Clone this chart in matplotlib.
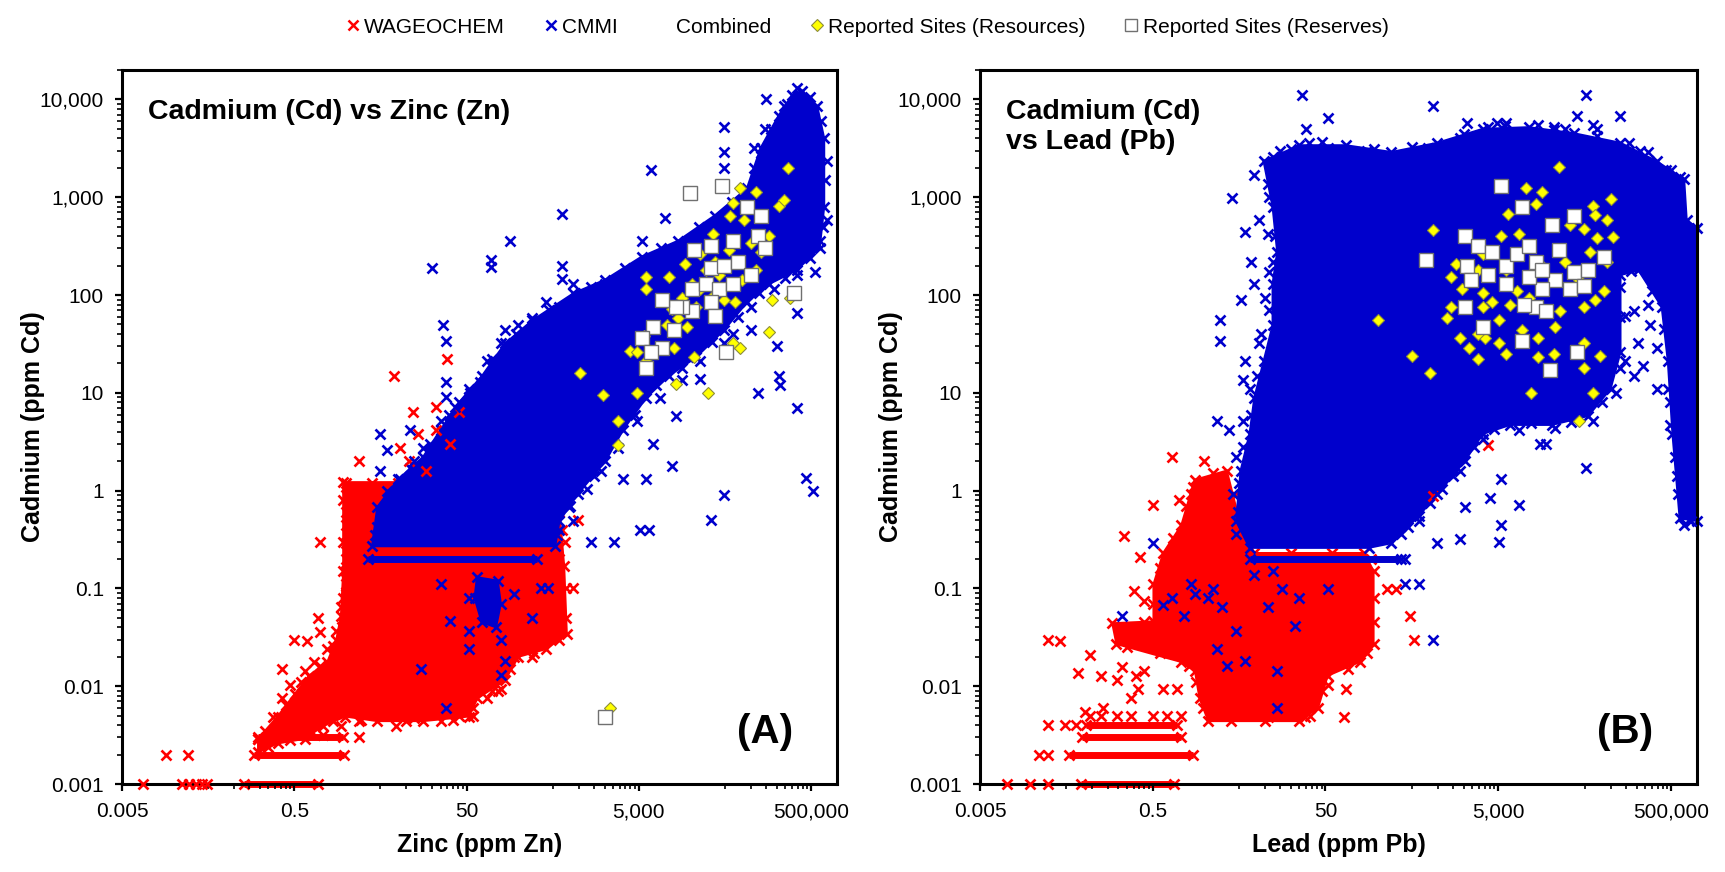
import numpy as np
import matplotlib.pyplot as plt
from matplotlib.lines import Line2D
from matplotlib.ticker import FixedLocator, FixedFormatter, LogLocator, NullFormatter

plt.rcParams['font.family'] = ['Liberation Sans', 'DejaVu Sans']

### Axis ticks
y_ticks = [0.001, 0.01, 0.1, 1, 10, 100, 1000, 10000]
y_tick_labels = ['0.001', '0.01', '0.1', '1', '10', '100', '1,000', '10,000']
x_ticks = [0.005, 0.5, 50, 5000, 500000]
x_tick_labels = ['0.005', '0.5', '50', '5,000', '500,000']

### Panel A : Cd vs Zn  (all pairs are (ppm x, ppm Cd))
# outline of the solid part of the WAGEOCHEM cloud
zn_wageo_core = [(1.85, 1.22), (13.8, 1.22), (290, 0.68), (600, 0.61), (680, 0.168), (730, 0.034),
                 (420, 0.024), (200, 0.020), (140, 0.0115), (67, 0.0075), (53, 0.0049), (15.6, 0.0044),
                 (4.6, 0.0044), (1.96, 0.0049), (1.07, 0.0039), (0.66, 0.0029), (0.32, 0.0026),
                 (0.19, 0.0021), (0.19, 0.0029), (0.32, 0.0049), (0.51, 0.0084), (0.74, 0.0128),
                 (1.21, 0.0177), (1.54, 0.030), (1.74, 0.052), (1.85, 0.15)]
zn_wageo_edge = [(0.23, 0.0035), (0.4, 0.0065), (0.6, 0.011), (1.0, 0.016), (1.4, 0.026), (1.8, 0.04),
                 (1.85, 0.08), (1.85, 0.3), (1.85, 0.8), (4, 1.2), (8, 1.2), (650, 0.4), (700, 0.3),
                 (720, 0.1), (720, 0.05), (600, 0.03), (300, 0.022), (160, 0.015), (100, 0.009),
                 (60, 0.006), (35, 0.0045), (10, 0.0044), (3, 0.0045), (1.4, 0.0044), (0.8, 0.0034),
                 (0.45, 0.0028), (0.25, 0.0024)]
# detection limit rows: (Cd, from, to)
zn_wageo_rows = [(0.001, 0.13, 0.95), (0.002, 0.17, 1.9), (0.003, 0.19, 1.85)]
zn_wageo_points = [(7.1, 15), (30, 22), (12, 6.4), (22, 7.2), (41, 6.4), (13.8, 3.8), (22, 4.2), (32, 3.0),
                   (8.5, 2.7), (10.8, 2.0), (17, 1.6), (2.8, 2.0), (2.0, 1.2), (2.0, 0.9), (2.0, 0.61),
                   (2.0, 0.44), (2.0, 0.29), (2.0, 0.2), (2.0, 0.15), (2.0, 0.11), (2.0, 0.088), (2.0, 0.06),
                   (1.0, 0.3), (0.95, 0.05), (1.0, 0.036), (0.5, 0.03), (0.7, 0.029), (0.36, 0.015),
                   (2.8, 0.003), (870, 0.1), (600, 0.2), (985, 0.5), (60, 0.005), (41, 0.005), (290, 0.02),
                   (115, 0.009), (0.19, 0.0029), (0.28, 0.0049), (0.36, 0.0075), (0.45, 0.0103),
                   (0.66, 0.0143), (0.84, 0.0177), (1.21, 0.024), (1.54, 0.037), (1.74, 0.064), (180, 0.02),
                   (124, 0.0093), (86, 0.0075), (25, 0.0044), (12.2, 0.0047), (7.5, 0.0039), (2.8, 0.0044),
                   (1.74, 0.0039), (1.07, 0.0032), (0.0088, 0.001), (0.025, 0.001), (0.03, 0.001),
                   (0.036, 0.001), (0.042, 0.001), (0.048, 0.001), (0.016, 0.002), (0.029, 0.002)]

zn_cmmi_core = [(3.9e5, 1.23e4), (5.9e5, 8500), (7.1e5, 4000), (7.1e5, 800), (6.3e5, 305), (3.4e5, 179),
                (1.64e5, 130), (9.0e4, 84), (4.9e4, 44), (2.3e4, 23), (1.13e4, 15), (6100, 8.9), (3300, 4.2),
                (2050, 2.0), (985, 0.93), (600, 0.49), (535, 0.27), (4.0, 0.27), (4.6, 0.68), (8.0, 1.3),
                (15.6, 2.2), (25, 4.2), (41, 8.0), (76, 15), (140, 32), (290, 55), (870, 104), (2050, 144),
                (5400, 247), (1.44e4, 360), (3.8e4, 650), (9.0e4, 1230), (1.3e5, 3200), (2.1e5, 6840),
                (3.0e5, 1.1e4)]
zn_cmmi_blob = [(66, 0.13), (115, 0.12), (125, 0.07), (110, 0.04), (75, 0.045), (62, 0.08)]
zn_cmmi_edge = [(4.3, 0.35), (6.0, 1.0), (11, 1.7), (19, 3.0), (31, 6.0), (55, 10), (100, 22), (190, 40),
                (450, 70), (1400, 120), (3500, 190), (9000, 300), (2.5e4, 500), (6e4, 900), (1.1e5, 2000),
                (1.7e5, 5000), (2.6e5, 9000), (560, 0.35), (800, 0.7), (1500, 1.4), (2600, 3.0),
                (4500, 6.0), (8000, 12), (1.6e4, 18), (3.5e4, 33), (7e4, 60), (1.25e5, 105), (2.5e5, 150),
                (4.8e5, 240), (6.8e5, 500), (7.3e5, 1500), (6.5e5, 6000)]
zn_cmmi_rows = [(0.2, 3.6, 330)]
zn_cmmi_points = [(1.5e5, 1.0e4), (4.9e4, 5200), (4.9e4, 2900), (4.9e4, 2000), (6900, 1900), (1.1e5, 3200),
                  (1.0e4, 610), (640, 680), (160, 360), (20, 190), (97, 230), (97, 195), (640, 200), (640, 145),
                  (870, 130), (5400, 360), (420, 85), (27, 49), (29, 34), (140, 44), (29, 13), (29, 9), (72, 13),
                  (53, 9), (4.9, 3.8), (5.9, 2.6), (11, 4.2), (4.9, 1.6), (1.35e4, 5.8), (7400, 3.0),
                  (1.2e4, 1.8), (6100, 1.3), (5100, 0.4), (1400, 0.3), (2600, 0.3), (4.9e4, 0.9), (3.4e4, 0.5),
                  (6500, 0.4), (4.4e5, 1.35), (5.2e5, 1.0), (1.2e5, 10), (3.4e5, 7), (2.1e5, 15), (2.2e5, 12),
                  (2.0e5, 30), (1.0e5, 44), (3.4e5, 65), (5.6e5, 170), (6.3e5, 360), (6.2e4, 40), (2.6e4, 14),
                  (3300, 1.3), (870, 0.49), (25, 0.11), (32, 0.046), (53, 0.024), (124, 0.03), (140, 0.018),
                  (124, 0.013), (15, 0.015), (29, 0.006), (180, 0.088), (370, 0.1), (290, 0.05), (445, 0.1),
                  (4.6, 0.42), (5.9, 0.52), (7.5, 0.61), (53, 0.08), (86, 0.088), (53, 0.037),
                  (2050, 130), (1110, 104), (600, 76), (290, 58), (200, 49), (124, 32), (86, 21), (53, 11),
                  (37, 7.2), (25, 5.2), (15.6, 2.7), (12.2, 2.0), (8.5, 1.3), (6.6, 0.84), (5.5, 0.55),
                  (3.4e5, 160), (1.86e5, 116), (1.0e5, 76), (4.9e4, 32), (2.6e4, 21), (1.6e4, 13.6),
                  (8800, 8.9), (4800, 5.2), (2900, 2.7), (1800, 1.6), (1260, 1.04), (770, 0.68), (600, 0.4),
                  (3.4e5, 1.3e4), (4.9e5, 1.05e4), (7.6e5, 2340), (7.6e5, 580), (1.3e5, 2340),
                  (1.46e5, 4950), (2.4e5, 8500)]

zn_resources = [(2.7e5, 2000), (7.5e4, 1250), (1.14e5, 1130), (2.1e5, 820), (2.4e5, 940), (6.2e4, 870),
                (5.8e4, 650), (8.4e4, 580), (3.6e4, 420), (1.64e5, 400), (5.5e4, 290), (2.6e4, 260),
                (1.7e4, 210), (1.13e4, 152), (6100, 152), (6100, 116), (4.3e4, 160), (7.9e4, 144),
                (1.14e5, 179), (3.4e4, 94), (4.9e4, 89), (2.3e4, 76), (6.6e4, 84), (1.75e5, 89), (2.85e5, 94),
                (1.2e4, 72), (1.44e4, 58), (1.06e4, 49), (1.8e4, 47), (5800, 38), (4000, 27), (4800, 26),
                (6100, 21), (1.27e4, 29), (2.2e4, 23), (1.35e4, 12.2), (6.2e4, 32), (7.5e4, 29), (1.64e5, 42),
                (3.2e4, 9.9), (1050, 16), (1900, 9.4), (4800, 9.9), (2900, 5.2), (2900, 2.9), (2300, 0.006),
                (3.0e4, 179), (3.8e4, 220), (2.1e4, 130), (2.6e4, 116), (1.6e4, 94), (1.0e5, 340),
                (1.3e5, 274)]
zn_reserves = [(1.95e4, 1110), (4.6e4, 1300), (9.0e4, 800), (1.3e5, 650), (1.2e5, 400), (1.46e5, 305),
               (2.2e4, 290), (3.4e4, 320), (6.2e4, 360), (3.4e4, 190), (4.9e4, 200), (7.0e4, 220),
               (1.0e5, 160), (2.1e4, 116), (3.0e4, 130), (4.3e4, 116), (6.2e4, 130), (3.4e4, 84),
               (3.8e4, 61), (2.1e4, 68), (1.6e4, 76), (1.35e4, 76), (9400, 89), (1.27e4, 44), (7400, 47),
               (5400, 36), (9400, 29), (6900, 26), (6100, 18), (5.2e4, 26), (3.2e5, 104), (2050, 0.0049)]

### Panel B : Cd vs Pb
pb_wageo_core = [(1.54, 1.29), (3.6, 1.6), (5.2, 0.44), (7.5, 0.23), (140, 0.23), (180, 0.151), (180, 0.027),
                 (124, 0.0177), (53, 0.0128), (41, 0.006), (25, 0.0044), (2.2, 0.0044), (1.74, 0.0075),
                 (1.54, 0.0143), (1.07, 0.0177), (0.19, 0.027), (0.17, 0.044), (0.51, 0.046), (0.51, 0.11),
                 (0.66, 0.23), (1.07, 0.44), (1.37, 0.93)]
pb_wageo_edge = [(0.3, 0.028), (0.4, 0.045), (0.51, 0.07), (0.6, 0.16), (0.85, 0.33), (1.2, 0.7),
                 (1.45, 1.1), (2.5, 1.5), (4.5, 0.9), (6, 0.33), (20, 0.23), (60, 0.23), (170, 0.2),
                 (180, 0.08), (180, 0.045), (150, 0.022), (90, 0.015), (45, 0.009), (33, 0.005),
                 (10, 0.0044), (4, 0.0044), (1.9, 0.006), (1.6, 0.011), (1.3, 0.016), (0.6, 0.022),
                 (0.25, 0.025)]
pb_wageo_rows = [(0.001, 0.073, 0.89), (0.002, 0.054, 1.45), (0.003, 0.075, 1.05), (0.004, 0.085, 0.95)]
pb_wageo_points = [(0.0104, 0.001), (0.019, 0.001), (0.031, 0.001), (0.0244, 0.002), (0.031, 0.002),
                   (0.031, 0.004), (0.048, 0.004), (0.065, 0.004), (0.093, 0.005), (0.126, 0.005),
                   (0.194, 0.005), (0.28, 0.005), (0.51, 0.005), (0.74, 0.005), (1.07, 0.005),
                   (0.069, 0.0135), (0.093, 0.021), (0.126, 0.0128), (0.194, 0.0115), (0.22, 0.0159),
                   (0.32, 0.0128), (0.40, 0.0143), (0.34, 0.0093), (0.66, 0.0093), (0.95, 0.0093),
                   (0.28, 0.0075), (0.134, 0.006), (0.083, 0.0055), (0.031, 0.03), (0.042, 0.029),
                   (0.23, 0.34), (0.51, 0.71), (0.84, 2.2), (1.0, 0.80), (0.36, 0.21), (0.40, 0.075),
                   (0.30, 0.093), (1.96, 2.0), (470, 0.052), (535, 0.03), (260, 0.098), (330, 0.098),
                   (86, 0.0093), (81, 0.0049), (29, 0.0049), (53, 0.0103), (12.2, 0.0067), (10.8, 0.0049),
                   (870, 0.89), (3760, 2.9)]

pb_cmmi_core = [(9.6, 2340), (25, 3400), (86, 3400), (290, 2900), (985, 3600), (3300, 5000), (1.13e4, 5200),
                (3.8e4, 4500), (1.3e5, 3600), (3.4e5, 2340), (7.1e5, 1520), (7.6e5, 580), (1.0e6, 490),
                (1.0e6, 0.49), (6.3e5, 0.52), (5.2e5, 3.8), (4.6e5, 21), (3.9e5, 76), (2.1e5, 179),
                (1.3e5, 160), (1.3e5, 26), (1.0e5, 11), (5.5e4, 5.8), (2.1e4, 4.7), (6900, 4.7), (3300, 3.8),
                (2050, 2.0), (1110, 1.04), (600, 0.55), (290, 0.29), (158, 0.26), (6.6, 0.26), (4.6, 0.49),
                (5.2, 1.6), (6.6, 3.8), (7.5, 8.9), (9.6, 21), (12.2, 49), (12.2, 130), (13.8, 274),
                (12.2, 800)]
pb_cmmi_edge = [(14, 1800), (11, 1000), (13, 400), (11, 170), (11, 70), (9, 40), (8, 15), (6.8, 6),
                (5.5, 2.8), (5, 1.2), (4.8, 0.6), (250, 0.35), (450, 0.42), (800, 0.75), (1500, 1.4),
                (2600, 2.8), (4500, 4.3), (1.2e4, 4.9), (3.5e4, 5.0), (8e4, 8), (1.3e5, 18), (1.3e5, 60),
                (1.3e5, 120), (1.7e5, 175), (3.0e5, 110), (4.2e5, 45), (4.9e5, 8), (5.8e5, 1.4),
                (8e5, 0.5), (15, 3000), (45, 3700), (150, 3000), (500, 3300), (2000, 4400), (6000, 5300),
                (2.2e4, 4900), (7e4, 4200), (2.2e5, 3000), (5e5, 1900)]
pb_cmmi_rows = [(0.2, 6.6, 370)]
pb_cmmi_points = [(0.84, 0.079), (0.66, 0.068), (1.14, 0.052), (1.54, 0.088), (2.2, 0.079), (2.8, 0.024),
                  (3.6, 0.016), (5.9, 0.018), (4.6, 0.037), (7.5, 0.136), (12.2, 0.151), (15.6, 0.098),
                  (25, 0.079), (53, 0.098), (22, 0.041), (13.8, 0.0143), (10.8, 0.064), (2.5, 0.098),
                  (3.2, 0.064), (0.22, 0.052), (0.51, 0.29), (1.37, 0.11), (13.8, 0.006), (870, 0.030),
                  (600, 0.11), (420, 0.11),
                  (27, 1.1e4), (53, 6500), (30, 5000), (870, 8500), (5.2e4, 1.1e4), (4.1e4, 6840),
                  (6.2e4, 5500), (1.3e5, 6840), (2170, 5800), (4800, 5800), (2.2e4, 5200), (4.4e5, 1520),
                  (5.4e5, 1370), (4.1, 990), (7.5, 1700), (5.9, 440), (10.8, 420), (6.9, 220), (7.5, 130),
                  (5.2, 89), (3.0, 55), (3.0, 34), (5.9, 21), (5.5, 13.6), (2.8, 5.2), (3.8, 4.2),
                  (1.86e5, 15), (5.2e4, 1.7), (5400, 1.3), (8800, 0.72), (4000, 0.84), (5400, 0.44),
                  (2050, 0.68), (1800, 0.32), (5100, 0.3), (985, 0.29), (420, 0.2), (1.53e4, 3.0),
                  (1.8e4, 3.0), (3.4e5, 11), (5.9e5, 6.4), (2.7e5, 80), (2.1e5, 250),
                  (12.2, 2600), (20, 3100), (32, 3600), (53, 3200), (110, 2900), (180, 3100), (470, 2600),
                  (770, 3200), (1800, 4000), (3760, 5200), (6100, 5800), (1.44e4, 5500), (3.0e4, 5000),
                  (7.0e4, 5000), (1.64e5, 3600), (2.7e5, 2900), (4.4e5, 1900), (6.3e5, 1600),
                  (10.8, 1370), (8.5, 580), (12.2, 220), (10, 94), (8.5, 32), (6.6, 11), (5.5, 5.2),
                  (4.6, 2.2), (4.3, 0.93), (4.6, 0.36),
                  (1800, 1.6), (985, 0.93), (600, 0.49), (370, 0.36), (3300, 3.4), (8800, 4.2), (2.3e4, 4.4),
                  (6.2e4, 5.2), (1.14e5, 9.9), (1.46e5, 21), (1.46e5, 61), (1.86e5, 68), (2.85e5, 49),
                  (2.1e5, 32), (3.4e5, 29), (2.4e5, 19),
                  (4.6e5, 11), (4.9e5, 4.7), (5.6e5, 2.2), (6.0e5, 0.93), (7.1e5, 0.44), (8.5e5, 0.49),
                  (4.4e5, 270)]

pb_resources = [(2.5e4, 2060), (1.06e4, 1250), (1.6e4, 1130), (1.35e4, 850), (6.2e4, 820), (1.0e5, 960),
                (6500, 680), (6.6e4, 660), (870, 460), (3.4e4, 520), (4.9e4, 470), (9.0e4, 580),
                (1.07e5, 390), (7.0e4, 380), (5400, 400), (8800, 420), (3300, 260), (1600, 210), (1420, 152),
                (2900, 179), (6100, 179), (1.6e4, 200), (3.0e4, 220), (5.8e4, 274), (9.0e4, 220), (1920, 116),
                (3300, 104), (4200, 84), (8300, 110), (1.13e4, 94), (4.3e4, 144), (8.4e4, 110), (6.6e4, 89),
                (1420, 76), (1260, 58), (3300, 76), (5100, 55), (6900, 80), (2.6e4, 68), (4.9e4, 76),
                (200, 55), (1800, 36), (2300, 29), (3500, 36), (5100, 32), (6100, 25), (1.44e4, 23),
                (2.2e4, 25), (2900, 22), (2.3e4, 47), (4.9e4, 32), (7.5e4, 24), (500, 24), (820, 16),
                (4.9e4, 18), (1.2e4, 9.9), (6.2e4, 9.9), (4.3e4, 5.2), (9400, 44), (1.44e4, 36), (2900, 40)]
pb_reserves = [(5400, 1300), (9400, 800), (2050, 400), (2900, 320), (4200, 274), (730, 226), (2200, 200),
               (2450, 141), (6100, 200), (8300, 260), (1.13e4, 320), (1.35e4, 220), (2.1e4, 520),
               (3.8e4, 650), (2.5e4, 290), (3.8e4, 170), (5.5e4, 179), (8.4e4, 247), (3.4e4, 116),
               (4.9e4, 123), (2.3e4, 144), (1.6e4, 116), (1.13e4, 152), (6100, 130), (3760, 160),
               (1.35e4, 76), (1.0e4, 80), (1.8e4, 68), (2050, 76), (3300, 47), (9400, 34), (4.1e4, 26),
               (2.0e4, 17), (1.6e4, 179)]

RED = '#FF0000'
BLUE = '#0000CC'
YELLOW = '#FFFF00'


def draw_points(ax, points, color, z):
    xs, ys = zip(*points)
    ax.plot(xs, ys, ls='none', marker='x', ms=7.2, mew=1.9, color=color, zorder=z, clip_on=False)


def draw_cloud(ax, outlines, edge, rows, color, z):
    # solid core of the cloud, with x marks along its ragged border
    for outline in outlines:
        xs, ys = zip(*outline)
        ax.fill(xs, ys, color=color, lw=1.5, zorder=z)
        draw_points(ax, outline, color, z)
    draw_points(ax, edge, color, z)
    for cd, lo, hi in rows:
        ax.hlines(cd, lo, hi, color=color, lw=5, zorder=z, clip_on=False)
        draw_points(ax, [(lo, cd), (hi, cd)], color, z)


def draw_sites(ax, resources, reserves):
    xs, ys = zip(*resources)
    ax.plot(xs, ys, ls='none', marker='D', ms=6.5, mfc=YELLOW, mec='#8C8C3C', mew=0.8, zorder=6)
    xs, ys = zip(*reserves)
    ax.plot(xs, ys, ls='none', marker='s', ms=9.5, mfc='white', mec='#707070', mew=1.0, zorder=7)


def style_axes(ax, title, letter):
    ax.set_xscale('log')
    ax.set_yscale('log')
    ax.set_xlim(0.005, 1e6)
    ax.set_ylim(0.001, 2e4)
    ax.xaxis.set_major_locator(FixedLocator(x_ticks))
    ax.xaxis.set_major_formatter(FixedFormatter(x_tick_labels))
    x_minor = [m * 0.05 * 100 ** j for j in range(4) for m in range(1, 10)]
    ax.xaxis.set_minor_locator(FixedLocator(x_minor))
    ax.xaxis.set_minor_formatter(NullFormatter())
    ax.yaxis.set_major_locator(FixedLocator(y_ticks))
    ax.yaxis.set_major_formatter(FixedFormatter(y_tick_labels))
    ax.yaxis.set_minor_locator(LogLocator(base=10, subs=range(2, 10), numticks=20))
    ax.yaxis.set_minor_formatter(NullFormatter())
    ax.tick_params(which='major', direction='out', length=5, width=1.6, labelsize=15, pad=8)
    ax.tick_params(which='minor', direction='out', length=3.5, width=1.2)
    for sp in ax.spines.values():
        sp.set_linewidth(2.2)
    ax.set_ylabel('Cadmium (ppm Cd)', fontsize=18, fontweight='bold')
    ax.yaxis.set_label_coords(-0.108, 0.5)
    ax.text(0.036, 0.96, title, transform=ax.transAxes, fontsize=20.5, fontweight='bold',
            va='top', linespacing=1.2, zorder=10)
    ax.text(0.90, 0.073, letter, transform=ax.transAxes, fontsize=29, fontweight='bold',
            ha='center', va='center', zorder=10)


fig = plt.figure(figsize=(17.25, 8.72), dpi=100)
axA = fig.add_axes([122 / 1725, 88 / 872, 715 / 1725, 714 / 872])
axB = fig.add_axes([980 / 1725, 88 / 872, 717 / 1725, 714 / 872])

### Panel A
draw_cloud(axA, [zn_wageo_core], zn_wageo_edge, zn_wageo_rows, RED, 1)
draw_cloud(axA, [zn_cmmi_core, zn_cmmi_blob], zn_cmmi_edge, zn_cmmi_rows, BLUE, 2)
draw_points(axA, zn_wageo_points, RED, 3)
draw_points(axA, zn_cmmi_points, BLUE, 4)
draw_sites(axA, zn_resources, zn_reserves)
style_axes(axA, 'Cadmium (Cd) vs Zinc (Zn)', '(A)')
axA.set_xlabel('Zinc (ppm Zn)', fontsize=18, fontweight='bold')
axA.xaxis.set_label_coords(0.5, -0.068)

### Panel B
draw_cloud(axB, [pb_wageo_core], pb_wageo_edge, pb_wageo_rows, RED, 1)
draw_cloud(axB, [pb_cmmi_core], pb_cmmi_edge, pb_cmmi_rows, BLUE, 2)
draw_points(axB, pb_wageo_points, RED, 3)
draw_points(axB, pb_cmmi_points, BLUE, 4)
draw_sites(axB, pb_resources, pb_reserves)
style_axes(axB, 'Cadmium (Cd)\nvs Lead (Pb)', '(B)')
axB.set_xlabel('Lead (ppm Pb)', fontsize=18, fontweight='bold')
axB.xaxis.set_label_coords(0.5, -0.068)

### Legend across the top
handles = [Line2D([], [], ls='none', marker='x', ms=7, mew=1.8, color=RED),
           Line2D([], [], ls='none', marker='x', ms=7, mew=1.8, color=BLUE),
           Line2D([], [], ls='none', marker=''),
           Line2D([], [], ls='none', marker='D', ms=6, mfc=YELLOW, mec='#8C8C3C', mew=0.8),
           Line2D([], [], ls='none', marker='s', ms=8, mfc='white', mec='#707070', mew=1.0)]
labels = ['WAGEOCHEM', 'CMMI', 'Combined', 'Reported Sites (Resources)', 'Reported Sites (Reserves)']
fig.legend(handles, labels, loc='center', bbox_to_anchor=(0.503, 0.969), ncol=5, frameon=False,
           fontsize=15, handlelength=0.6, handletextpad=0.25, columnspacing=1.9, borderpad=0)

fig.savefig('out.png', dpi=100)
